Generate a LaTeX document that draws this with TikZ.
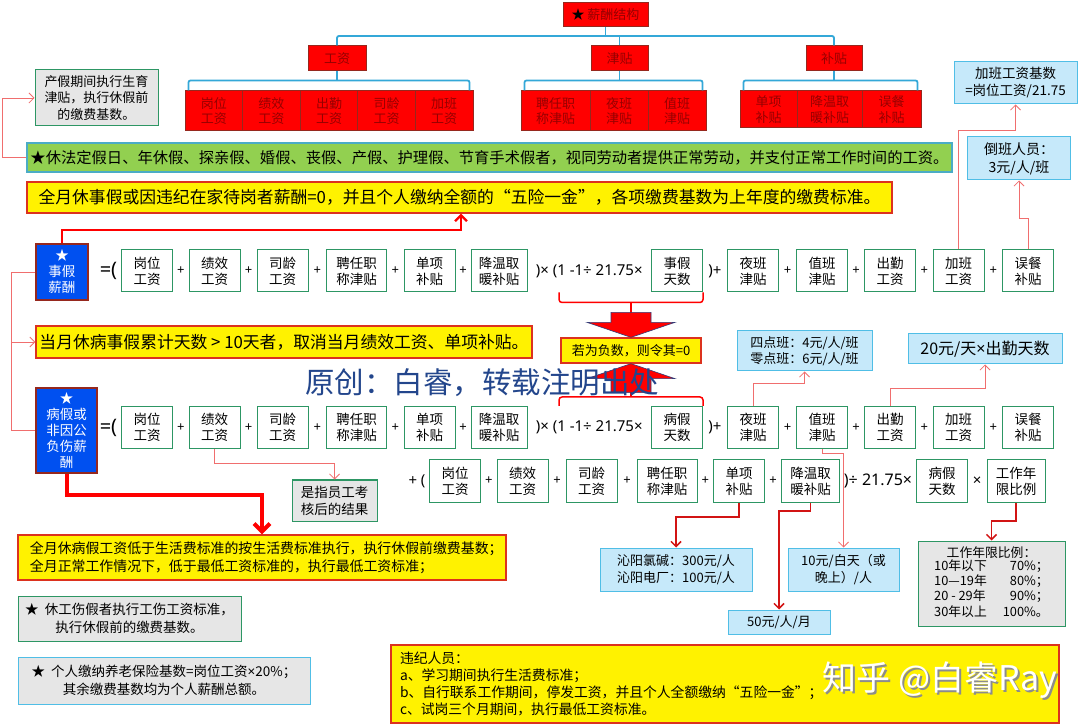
\documentclass[tikz,border=0pt]{standalone}
\usepackage{fontspec}
\setmainfont{Noto Sans CJK SC}
\newfontfamily\latinf{Noto Sans}
\usetikzlibrary{arrows.meta,calc}
\definecolor{treeblue}{RGB}{52,168,216}
\definecolor{boxred}{RGB}{255,0,0}
\definecolor{boxedge}{RGB}{150,40,30}
\definecolor{txtred}{RGB}{150,0,0}
\definecolor{termgreen}{RGB}{45,150,100}
\definecolor{barfill}{RGB}{146,208,80}
\definecolor{baredge}{RGB}{75,172,198}
\definecolor{notegray}{RGB}{230,230,230}
\definecolor{skyfill}{RGB}{198,233,250}
\definecolor{skyedge}{RGB}{80,190,230}
\definecolor{paybl}{RGB}{0,80,240}
\definecolor{linkred}{RGB}{240,110,110}
\definecolor{deepred}{RGB}{210,20,20}
\definecolor{warnedge}{RGB}{220,50,30}
\definecolor{markblue}{RGB}{35,70,140}
\definecolor{fatedge}{RGB}{50,60,120}
\newcommand{\setfs}[2]{\fontsize{#1}{#2}\selectfont}
\newcommand{\tm}{{\latinf ×}}

\begin{document}
\begin{tikzpicture}[x=1pt,y=-1pt,>={Straight Barb[length=5pt,width=10pt]},
  redbox/.style={draw=boxedge,fill=boxred,text=txtred,line width=1pt,inner sep=0pt,align=center,font=\setfs{13}{15.5}},
  term/.style={draw=termgreen,fill=white,line width=1pt,inner sep=0pt,minimum height=42,align=center,font=\setfs{13.5}{16}},
  opsign/.style={inner sep=0pt,font=\latinf\setfs{13}{15}},
  paybox/.style={draw=boxedge,fill=paybl,text=white,line width=1.2pt,inner sep=0pt,align=center,font=\setfs{13.5}{16}},
  notebox/.style={draw=termgreen,fill=notegray,line width=1pt,inner sep=0pt,align=center,font=\setfs{13.5}{17}},
  skybox/.style={draw=skyedge,fill=skyfill,line width=1pt,inner sep=0pt,align=center,font=\setfs{13.5}{17}},
  warnbox/.style={draw=warnedge,fill=yellow,line width=1.3pt,inner sep=0pt,align=center,font=\setfs{16.8}{19}},
  tree/.style={treeblue,line width=1.8pt,rounded corners=2pt},
  link/.style={linkred,line width=0.8pt},
  deep/.style={deepred,line width=1.5pt},
  heavy/.style={red,line width=2.2pt,>={Straight Barb[length=6pt,width=12pt]}},
  brace/.style={red,line width=1.5pt,rounded corners=3pt},
  fatarrow/.style={fill=red,draw=fatedge,line width=0.6pt}]
  \fill[white] (0,0) rectangle (1080,727);
  \useasboundingbox (0,0) rectangle (1080,727);

  % structure tree on top
  \node[redbox,minimum width=85,minimum height=24] (root) at (605.5,14.5) {\textcolor{black}{★}\ 薪酬结构};
  \node[redbox,minimum width=58,minimum height=25] (gz) at (337,58.5) {工资};
  \node[redbox,minimum width=57,minimum height=25] (jt) at (619.5,58.5) {津贴};
  \node[redbox,minimum width=56,minimum height=25] (bt) at (834,58.5) {补贴};
  \foreach \n/\x/\txt in {1/213.8/岗位\\工资,2/271.4/绩效\\工资,3/329/出勤\\工资,4/386.6/司龄\\工资,5/444.2/加班\\工资}
    \node[redbox,minimum width=57.6,minimum height=40] (g\n) at (\x,111) {\txt};
  \node[redbox,minimum width=69,minimum height=40] (j1) at (555.5,111) {聘任职\\称津贴};
  \node[redbox,minimum width=58,minimum height=40] (j2) at (619,111) {夜班\\津贴};
  \node[redbox,minimum width=58,minimum height=40] (j3) at (677,111) {值班\\津贴};
  \node[redbox,minimum width=57,minimum height=37] (t1) at (768.5,109.5) {单项\\补贴};
  \node[redbox,minimum width=65,minimum height=37] (t2) at (829.5,109.5) {降温取\\暖补贴};
  \node[redbox,minimum width=59,minimum height=37] (t3) at (891.5,109.5) {误餐\\补贴};
  \coordinate (lv) at (0,36);
  \draw[tree] (gz.north) -- (gz.north |- lv) -- (bt.north |- lv) -- (bt.north);
  \draw[tree] (root.south) -- (root.south |- lv);
  \draw[tree] (jt.north) -- (jt.north |- lv);
  \draw[tree] ([xshift=4pt]g1.north west) -- ++(0,-10) -| ([xshift=-4pt]g5.north east);
  \draw[tree] (gz.south) -- ++(0,10);
  \draw[tree] ([xshift=4pt]j1.north west) -- ++(0,-10) -| ([xshift=-4pt]j3.north east);
  \draw[tree] (jt.south) -- ++(0,10);
  \draw[tree] ([xshift=4pt]t1.north west) -- ++(0,-10) -| ([xshift=-4pt]t3.north east);
  \draw[tree] (bt.south) -- ++(0,10);

  % notes
  \node[notebox,minimum width=123,minimum height=56,font=\setfs{13}{16.5}] (cj) at (96.5,98) {产假期间执行生育\\津贴，执行休假前\\的缴费基数。};
  \node[draw=baredge,fill=barfill,line width=1.5pt,inner sep=0pt,minimum width=925,minimum height=29,font=\setfs{15.3}{18}] (gb) at (489.5,157.5) {★休法定假日、年休假、探亲假、婚假、丧假、产假、护理假、节育手术假者，视同劳动者提供正常劳动，并支付正常工作时间的工资。};
  \node[warnbox,minimum width=865,minimum height=31] (y1) at (459.5,197.5) {全月休事假或因违纪在家待岗者薪酬=0，并且个人缴纳全额的“五险一金”，各项缴费基数为上年度的缴费标准。};
  \node[skybox,minimum width=123,minimum height=42] (jbj) at (1015.5,83) {加班工资基数\\=岗位工资/21.75};
  \node[skybox,minimum width=103,minimum height=43,font=\setfs{14}{18}] (dbr) at (1019,158.5) {倒班人员：\\3元/人/班};
  \node[paybox,minimum width=52,minimum height=56] (sj) at (62,272) {★\\事假\\薪酬};
  \node[warnbox,minimum width=496,minimum height=32] (y2) at (284,342) {当月休病事假累计天数 > 10天者，取消当月绩效工资、单项补贴。};
  \node[warnbox,minimum width=140,minimum height=25,font=\setfs{13}{15}] (neg) at (631,350.5) {若为负数，则令其=0};
  \node[skybox,minimum width=135,minimum height=40,font=\setfs{13}{16}] (sdb) at (804.5,351) {四点班：4元/人/班\\零点班：6元/人/班};
  \node[skybox,minimum width=154,minimum height=30,font=\setfs{16}{18}] (ert) at (985,349) {20元/天\tm 出勤天数};
  \node[paybox,minimum width=61,minimum height=85] (bj) at (66.5,430.5) {★\\病假或\\非因公\\负伤薪\\酬};

  % the two pay formulas
  \foreach \rw/\y/\lv in {a/271/事假,b/427.5/病假}{
    \foreach \n/\x/\w/\txt in {1/147/51/岗位\\工资,2/214.5/51/绩效\\工资,3/282.5/51/司龄\\工资,4/356.5/60/聘任职\\称津贴,5/429.5/51/单项\\补贴,6/499/56/降温取\\暖补贴,7/677/51/\lv\\天数,8/753/51/夜班\\津贴,9/822/51/值班\\津贴,10/890/51/出勤\\工资,11/958.5/51/加班\\工资,12/1028/51/误餐\\补贴}
      \node[term,minimum width=\w] (\rw\n) at (\x,\y) {\txt};
    \foreach \ia/\ib in {1/2,2/3,3/4,4/5,5/6,8/9,9/10,10/11,11/12}
      \node[opsign] (\rw p\ia) at ($(\rw\ia.east)!0.5!(\rw\ib.west)$) {+};
    \node[opsign,font=\latinf\setfs{15}{17}] (\rw k) at ($(\rw6.east)!0.5!(\rw7.west)$) {)× (1 -1÷ 21.75×};
    \node[opsign,font=\latinf\setfs{15}{17}] (\rw s) at ($(\rw7.east)!0.5!(\rw8.west)$) {)+};
    \node[opsign,font=\latinf\setfs{20}{22}] (\rw e) at (108.5,\y) {=(};
  }
  % sick leave extra part
  \foreach \n/\x/\w/\txt in {1/455/51/岗位\\工资,2/522.5/51/绩效\\工资,3/591.5/51/司龄\\工资,4/667/60/聘任职\\称津贴,5/739/51/单项\\补贴,6/810.5/58/降温取\\暖补贴,7/942/51/病假\\天数,8/1016/58/工作年\\限比例}
    \node[term,minimum width=\w] (c\n) at (\x,481) {\txt};
  \foreach \ia/\ib in {1/2,2/3,3/4,4/5,5/6}
    \node[opsign] (cp\ia) at ($(c\ia.east)!0.5!(c\ib.west)$) {+};
  \node[opsign,font=\latinf\setfs{15}{17}] (ce) at (417,481) {+ (};
  \node[opsign,font=\latinf\setfs{16}{18}] (ck) at ($(c6.east)!0.5!(c7.west)$) {)÷ 21.75×};
  \node[opsign,font=\latinf\setfs{15}{17}] (cx) at ($(c7.east)!0.5!(c8.west)$) {×};

  % brackets and block arrows round the zero rule
  \draw[brace] ([xshift=-144pt]a7.south east) -- ++(0,10) -| (a7.south east);
  \draw[brace] ($(a7.south east)+(-72,10)$) -- ++(0,11);
  \draw[brace] ([xshift=-144pt]b7.north east) -- ++(0,-9) -| (b7.north east);
  \draw[brace] ($(b7.north east)+(-72,-9)$) -- ++(0,-6);
  \draw[fatarrow] (neg.north) -- ++(-44,-15) -- ++(24,0) -- ++(0,-10) -- ++(40,0) -- ++(0,10) -- ++(24,0) -- cycle;
  \draw[fatarrow] (neg.south) -- ++(-44,15) -- ++(24,0) -- ++(0,14) -- ++(40,0) -- ++(0,-14) -- ++(24,0) -- cycle;
  \node[anchor=west,inner sep=0pt,text=markblue,font=\setfs{29.5}{31}] (mark) at (305,383) {原创：白睿，转载注明出处};

  % lower notes
  \node[notebox,minimum width=85,minimum height=41] (sz) at (334.5,500.5) {是指员工考\\核后的结果};
  \node[warnbox,minimum width=488,minimum height=45,text width=464,inner xsep=12pt,align=left,font=\setfs{13.9}{18}] (y3) at (262,557.5) {全月休病假工资低于生活费标准的按生活费标准执行，执行休假前缴费基数；\\全月正常工作情况下，低于最低工资标准的，执行最低工资标准；};
  \node[skybox,minimum width=152,minimum height=43,font=\setfs{13}{17}] (qy) at (676,569.5) {沁阳氯碱：300元/人\\沁阳电厂：100元/人};
  \node[skybox,minimum width=111,minimum height=43,font=\setfs{13}{17}] (sy) at (843.5,569.5) {10元/白天（或\\晚上）/人};
  \node[skybox,minimum width=102,minimum height=24,font=\setfs{13}{15}] (wsy) at (779,622) {50元/人/月};
  \node[notebox,minimum width=147,minimum height=85,font=\setfs{12.8}{15}] (gzn) at (991.5,583.5) {工作年限比例：\\\begin{tabular}{@{}l@{\hspace{16pt}}r@{}}10年以下&70\%；\\10—19年&80\%；\\20 - 29年&90\%；\\30年以上&100\%。\end{tabular}};
  \node[notebox,minimum width=223,minimum height=45,font=\setfs{13.5}{18}] (xgs) at (129.5,618.5) {★\ \ 休工伤假者执行工伤工资标准，\\执行休假前的缴费基数。};
  \node[notebox,draw=skyedge,minimum width=292,minimum height=47,font=\setfs{13.5}{18}] (grj) at (164,680.5) {★\ \ 个人缴纳养老保险基数=岗位工资\tm 20\%；\\其余缴费基数均为个人薪酬总额。};
  \node[warnbox,minimum width=668,minimum height=78,text width=650,inner xsep=9pt,align=left,font=\setfs{13.8}{17}] (wj) at (725,684) {违纪人员：\\a、学习期间执行生活费标准；\\b、自行联系工作期间，停发工资，并且个人全额缴纳“五险一金”；\\c、试岗三个月期间，执行最低工资标准。};
  \node[text=black!45,font=\setfs{34}{38}] (wms) at (942,682) {知乎 @白睿Ray};
  \node[text=white,font=\setfs{34}{38}] (wm) at (940,680) {知乎 @白睿Ray};

  % connectors
  \coordinate (k0) at (2,0);
  \draw[link,->] (gb.west) -- (gb.west -| k0) |- (cj.west);
  \coordinate (k1) at (11,0);
  \draw[link] (sj.west) -- (sj.west -| k1) -- (bj.west -| k1) -- (bj.west);
  \draw[link,->] (y2.west -| k1) -- (y2.west);
  \coordinate (k2) at (461,230);
  \draw[heavy,->] (sj.north) |- (k2) -- (k2 |- y1.south);
  \coordinate (k3) at (0,495);
  \draw[heavy,line width=4pt,->,>={Straight Barb[length=8pt,width=16pt]}] (bj.south) |- (y3.north |- k3) -- (y3.north);
  \coordinate (k4) at (0,130);
  \draw[link,->] (a11.north) |- (jbj.south |- k4) -- (jbj.south);
  \coordinate (k5) at (0,218);
  \draw[link,->] (a12.north) |- (dbr.south |- k5) -- (dbr.south);
  \coordinate (k6) at (0,383);
  \draw[link,->] (b8.north) |- (sdb.south |- k6) -- (sdb.south);
  \coordinate (k7) at (0,388);
  \draw[link,->] (b10.north) |- (ert.south |- k7) -- (ert.south);
  \coordinate (k8) at (0,463);
  \draw[link,->] (b2.south) |- (sz.north |- k8) -- (sz.north);
  \coordinate (k9) at (0,453);
  \draw[link,->] (b9.south) |- (sy.north |- k9) -- (sy.north);
  \coordinate (k10) at (0,517);
  \draw[deep,->] (c5.south) |- (qy.north |- k10) -- (qy.north);
  \coordinate (k11) at (0,511);
  \draw[deep,->] (c6.south) |- (wsy.north |- k11) -- (wsy.north);
  \coordinate (k12) at (0,521);
  \draw[deep,->] (c8.south) |- (gzn.north |- k12) -- (gzn.north);
\end{tikzpicture}
\end{document}
